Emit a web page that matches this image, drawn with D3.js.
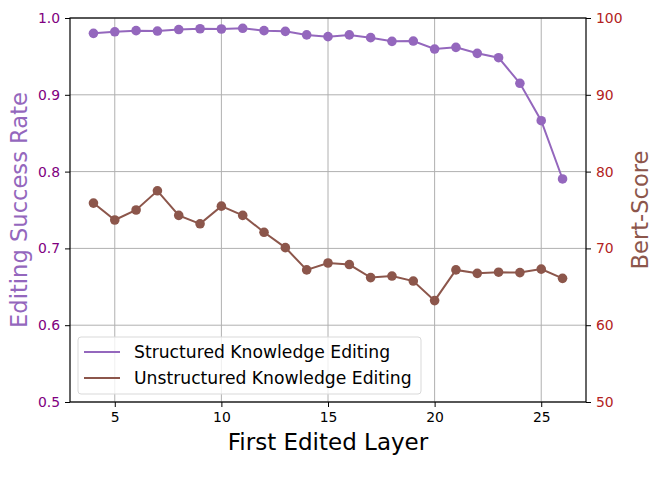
<!DOCTYPE html>
<html>
<head>
<meta charset="utf-8">
<script src="https://cdn.jsdelivr.net/npm/d3@7"></script>
<style>
  body { margin: 0; background: #fff; }
  svg text { font-family: "DejaVu Sans", sans-serif; }
</style>
</head>
<body>
<div id="canvas"></div>
<script>
// first edited layer
const layers = [4, 5, 6, 7, 8, 9, 10, 11, 12, 13, 14, 15, 16, 17, 18, 19, 20, 21, 22, 23, 24, 25, 26];
// editing success rate (left axis)
const structured = [0.980, 0.982, 0.9835, 0.983, 0.985, 0.986, 0.9857, 0.9866, 0.9835, 0.9826, 0.978, 0.9757,
  0.978, 0.9744, 0.9696, 0.970, 0.9596, 0.9618, 0.954, 0.9483, 0.915, 0.8663, 0.7904];
// bert-score (right axis)
const unstructured = [75.9, 73.7, 75.0, 77.5, 74.3, 73.2, 75.5, 74.3, 72.1, 70.1, 67.2, 68.1,
  67.9, 66.2, 66.4, 65.75, 63.2, 67.2, 66.75, 66.9, 66.85, 67.3, 66.1];
const xTicks = [5, 10, 15, 20, 25];
const leftTicks = [0.5, 0.6, 0.7, 0.8, 0.9, 1.0];
const rightTicks = [50, 60, 70, 80, 90, 100];
const legendLabels = ["Structured Knowledge Editing", "Unstructured Knowledge Editing"];

const width = 660;
const height = 482;
const margin = { top: 18, left: 70, bottom: 80, right: 74 };
const iwidth = width - margin.left - margin.right;
const iheight = height - margin.top - margin.bottom;

const purple = "#9467bd";
const brown = "#8c564b";

const svg = d3.select("#canvas").append("svg")
  .attr("width", width)
  .attr("height", height);

const g = svg.append("g").attr("transform", `translate(${margin.left},${margin.top})`);

const x = d3.scaleLinear().domain([2.9, 27.1]).range([0, iwidth]);
const yL = d3.scaleLinear().domain([0.5, 1.0]).range([iheight, 0]);
const yR = d3.scaleLinear().domain([50, 100]).range([iheight, 0]);

// grid
g.append("g")
  .selectAll("line.vg").data(xTicks).enter().append("line")
  .attr("x1", d => x(d)).attr("x2", d => x(d))
  .attr("y1", 0).attr("y2", iheight)
  .attr("stroke", "#b0b0b0").attr("stroke-width", 1);
g.append("g")
  .selectAll("line.hg").data(leftTicks).enter().append("line")
  .attr("x1", 0).attr("x2", iwidth)
  .attr("y1", d => yL(d)).attr("y2", d => yL(d))
  .attr("stroke", "#b0b0b0").attr("stroke-width", 1);

// series
const lineS = d3.line().x((d, i) => x(layers[i])).y(d => yL(d));
const lineU = d3.line().x((d, i) => x(layers[i])).y(d => yR(d));

g.append("path").datum(structured)
  .attr("d", lineS).attr("fill", "none")
  .attr("stroke", purple).attr("stroke-width", 2);
g.selectAll("circle.s").data(structured).enter().append("circle")
  .attr("cx", (d, i) => x(layers[i])).attr("cy", d => yL(d))
  .attr("r", 4.8).attr("fill", purple);

g.append("path").datum(unstructured)
  .attr("d", lineU).attr("fill", "none")
  .attr("stroke", brown).attr("stroke-width", 2);
g.selectAll("circle.u").data(unstructured).enter().append("circle")
  .attr("cx", (d, i) => x(layers[i])).attr("cy", d => yR(d))
  .attr("r", 4.8).attr("fill", brown);

// axes
const styleAxis = (sel, color) => {
  sel.select(".domain").remove();
  sel.selectAll(".tick line").attr("stroke", "#000").attr("stroke-width", 1);
  sel.selectAll(".tick text").attr("fill", color).style("font-size", "13.9px");
};

g.append("g")
  .attr("transform", `translate(0,${iheight})`)
  .call(d3.axisBottom(x).tickValues(xTicks).tickSize(5).tickPadding(5))
  .call(s => styleAxis(s, "#000"));

g.append("g")
  .call(d3.axisLeft(yL).tickValues(leftTicks).tickFormat(d3.format(".1f")).tickSize(5).tickPadding(5))
  .call(s => styleAxis(s, "#800080"));

g.append("g")
  .attr("transform", `translate(${iwidth},0)`)
  .call(d3.axisRight(yR).tickValues(rightTicks).tickSize(5).tickPadding(5))
  .call(s => styleAxis(s, "#b22222"));

// frame
g.append("rect")
  .attr("width", iwidth).attr("height", iheight)
  .attr("fill", "none").attr("stroke", "#000").attr("stroke-width", 1.2);

// axis labels
svg.append("text")
  .attr("x", margin.left + iwidth / 2).attr("y", 450)
  .attr("text-anchor", "middle")
  .style("font-size", "23px").attr("fill", "#000")
  .text("First Edited Layer");

svg.append("text")
  .attr("transform", `translate(27,${margin.top + iheight / 2}) rotate(-90)`)
  .attr("text-anchor", "middle")
  .style("font-size", "22.6px").attr("fill", purple)
  .text("Editing Success Rate");

svg.append("text")
  .attr("transform", `translate(648,${margin.top + iheight / 2}) rotate(-90)`)
  .attr("text-anchor", "middle")
  .style("font-size", "22.6px").attr("fill", brown)
  .text("Bert-Score");

// legend
const legend = g.append("g").attr("transform", "translate(8,319)");
legend.append("rect")
  .attr("width", 343).attr("height", 57).attr("rx", 3)
  .attr("fill", "#fff").attr("fill-opacity", 0.8)
  .attr("stroke", "#d9d9d9");
const items = legend.selectAll("g.item").data(legendLabels).enter().append("g")
  .attr("transform", (d, i) => `translate(0,${15 + i * 26})`);
items.append("line")
  .attr("x1", 6).attr("x2", 42).attr("y1", 0).attr("y2", 0)
  .attr("stroke", (d, i) => i === 0 ? purple : brown).attr("stroke-width", 2);
items.append("text")
  .attr("x", 56).attr("y", 6)
  .style("font-size", "17.2px").attr("fill", "#000")
  .text(d => d);
</script>
</body>
</html>
